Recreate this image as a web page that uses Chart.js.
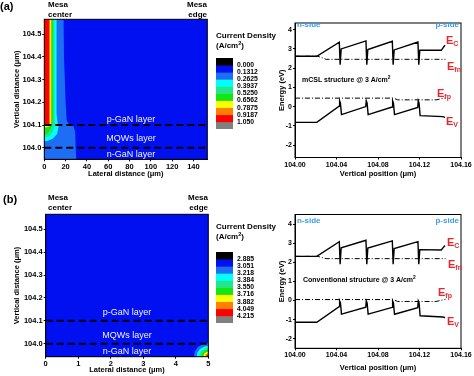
<!DOCTYPE html>
<html>
<head>
<meta charset="utf-8">
<script src="https://cdn.jsdelivr.net/npm/chart.js@4.4.1/dist/chart.umd.min.js"></script>
<style>
  body { margin: 0; background: #fff; }
  #wrap { position: relative; width: 474px; height: 376px; overflow: hidden; font-family: 'Liberation Sans', Arial, sans-serif; }
  canvas { position: absolute; }
  .t { position: absolute; white-space: nowrap; line-height: 1; font-weight: bold; color: #000; }
  .t sup { font-size: 70%; vertical-align: 3px; line-height: 0; }
  .lay { font-weight: normal; color: #f2f2ff; font-size: 9px; transform: translateX(-50%); }
  .side { color: #3d9be9; font-size: 8px; }
  .e { color: #e8262e; font-size: 11px; }
  .e sub { font-size: 7px; vertical-align: -2px; line-height: 0; }
</style>
</head>
<body>
<div id="wrap">
  <canvas id="contourA" width="215" height="185" style="left:0;top:0"></canvas>
  <canvas id="barA" width="51" height="87" style="left:216px;top:50px"></canvas>
  <canvas id="bandA" width="204" height="170" style="left:270px;top:15px"></canvas>
  <canvas id="contourB" width="215" height="181" style="left:0;top:195px"></canvas>
  <canvas id="barB" width="51" height="87" style="left:216px;top:244px"></canvas>
  <canvas id="bandB" width="204" height="169" style="left:270px;top:207px"></canvas>

  <!-- panel (a) labels -->
  <div class="t" style="left:0;top:1px;font-size:11px">(a)</div>
  <div class="t" style="left:48px;top:1px;font-size:8px">Mesa</div>
  <div class="t" style="left:48px;top:11px;font-size:8px">center</div>
  <div class="t" style="right:267px;top:1px;font-size:8px">Mesa</div>
  <div class="t" style="right:267px;top:11px;font-size:8px">edge</div>
  <div class="t" style="left:216px;top:32px;font-size:8px">Current Density</div>
  <div class="t" style="left:216px;top:42px;font-size:8px">(A/cm<sup>2</sup>)</div>
  <div class="t lay" style="left:131px;top:114.5px">p-GaN layer</div>
  <div class="t lay" style="left:131px;top:133.5px">MQWs layer</div>
  <div class="t lay" style="left:131px;top:150px">n-GaN layer</div>
  <div class="t side" style="left:297px;top:21px">n-side</div>
  <div class="t side" style="right:15px;top:21px">p-side</div>
  <div class="t" style="left:302px;top:75.5px;font-size:7px">mCSL structure @ 3 A/cm<sup>2</sup></div>
  <div class="t e" style="left:446px;top:35px">E<sub>C</sub></div>
  <div class="t e" style="left:447px;top:61px">E<sub>fn</sub></div>
  <div class="t e" style="left:437px;top:88px">E<sub>fp</sub></div>
  <div class="t e" style="left:446px;top:116px">E<sub>V</sub></div>

  <!-- panel (b) labels -->
  <div class="t" style="left:3px;top:194px;font-size:11px">(b)</div>
  <div class="t" style="left:48px;top:194px;font-size:8px">Mesa</div>
  <div class="t" style="left:48px;top:204px;font-size:8px">center</div>
  <div class="t" style="right:266px;top:194px;font-size:8px">Mesa</div>
  <div class="t" style="right:266px;top:204px;font-size:8px">edge</div>
  <div class="t" style="left:216px;top:223px;font-size:8px">Current Density</div>
  <div class="t" style="left:216px;top:233px;font-size:8px">(A/cm<sup>2</sup>)</div>
  <div class="t lay" style="left:127px;top:308px">p-GaN layer</div>
  <div class="t lay" style="left:127px;top:330.5px">MQWs layer</div>
  <div class="t lay" style="left:127px;top:347px">n-GaN layer</div>
  <div class="t side" style="left:297px;top:217px">n-side</div>
  <div class="t side" style="right:15px;top:217px">p-side</div>
  <div class="t" style="left:303px;top:275.5px;font-size:7px">Conventional structure @ 3 A/cm<sup>2</sup></div>
  <div class="t e" style="left:447px;top:237px">E<sub>C</sub></div>
  <div class="t e" style="left:448px;top:259px">E<sub>fn</sub></div>
  <div class="t e" style="left:438px;top:287px">E<sub>fp</sub></div>
  <div class="t e" style="left:447px;top:316px">E<sub>V</sub></div>
</div>

<script>
Chart.defaults.font.family = "'Liberation Sans', Arial, sans-serif";
Chart.defaults.color = '#000';

// colour levels of the contour maps (below first label ... above last label)
const levelColors = ['#000000', '#0010f0', '#1e6ef5', '#00ffff', '#22e68a', '#14e614', '#ffff00', '#ff8000', '#ff0000', '#808080'];
const levelLabelsA = ['0.000', '0.1312', '0.2625', '0.3937', '0.5250', '0.6562', '0.7875', '0.9187', '1.050'];
const levelLabelsB = ['2.885', '3.051', '3.218', '3.384', '3.550', '3.716', '3.882', '4.049', '4.215'];

// tick values
const contourYTicks = [104.0, 104.1, 104.2, 104.3, 104.4, 104.5];
const contourXTicksA = [0, 20, 40, 60, 80, 100, 120, 140];
const contourXTicksB = [0, 1, 2, 3, 4, 5];
const bandXTicks = [104.00, 104.04, 104.08, 104.12, 104.16];
const bandYTicks = [-2, -1, 0, 1, 2, 3, 4];
const layerBoundaries = [104.1, 104.0];

// (a) contour regions, [lateral µm, vertical µm], outer level first
const blueA = [[0, 103.9], [160, 103.9], [160, 104.6], [0, 104.6]];
const medBlueA = [[0, 104.6], [18, 104.6], [18.5, 104.4], [20, 104.2], [21, 104.12], [23, 104.105], [27, 104.1], [29, 104.07], [29.5, 104.0], [30.5, 103.9], [0, 103.9]];
const cyanA = [[0, 104.6], [11.5, 104.6], [11.5, 104.15], [12.5, 104.11], [13.5, 104.095], [12, 104.06], [8, 104.04], [3, 104.03], [0, 104.028]];
const seaGreenA = [[0, 104.6], [9.5, 104.6], [9.5, 104.12], [10, 104.1], [8, 104.07], [5, 104.052], [2, 104.046], [0, 104.044]];
const greenA = [[0, 104.6], [8, 104.6], [8, 104.11], [6.5, 104.09], [4.5, 104.07], [2, 104.06], [0, 104.058]];
const yellowA = [[0, 104.6], [6.5, 104.6], [6.5, 104.105], [5, 104.095], [2, 104.09], [0, 104.088]];
const orangeA = [[0, 104.6], [5.5, 104.6], [5.5, 104.1], [3, 104.098], [0, 104.097]];
const redA = [[0, 104.6], [4.5, 104.6], [4.5, 104.105], [0, 104.105]];

// (b) contour regions: hot spot in the bottom-right corner
const blueB = [[0, 103.9], [5.2, 103.9], [5.2, 104.6], [0, 104.6]];
const medBlueB = [[5, 103.94], [4.55, 103.94], [4.584, 103.966], [4.682, 103.985], [4.828, 103.998], [5, 104.003]];
const cyanB = [[5, 103.94], [4.64, 103.94], [4.667, 103.961], [4.745, 103.977], [4.862, 103.987], [5, 103.991]];
const seaGreenB = [[5, 103.94], [4.71, 103.94], [4.732, 103.958], [4.795, 103.970], [4.889, 103.978], [5, 103.981]];
const greenB = [[5, 103.94], [4.78, 103.94], [4.797, 103.954], [4.844, 103.964], [4.916, 103.971], [5, 103.973]];
const yellowB = [[5, 103.94], [4.85, 103.94], [4.861, 103.951], [4.894, 103.959], [4.943, 103.963], [5, 103.965]];
const orangeB = [[5, 103.94], [4.9, 103.94], [4.908, 103.949], [4.929, 103.954], [4.962, 103.957], [5, 103.958]];
const redB = [[5, 103.94], [4.94, 103.94], [4.945, 103.946], [4.958, 103.949], [4.977, 103.951], [5, 103.952]];

// band diagrams, [vertical position µm, energy eV]
const ecA = [[104.000, 2.62], [104.021, 2.62], [104.0427, 3.35], [104.0435, 2.18], [104.0445, 3.00], [104.0684, 3.42], [104.0692, 2.18], [104.0702, 2.97], [104.0938, 3.40], [104.0946, 2.18], [104.0956, 2.95], [104.1185, 3.36], [104.1193, 2.18], [104.1203, 2.93], [104.1410, 2.93], [104.1430, 3.08], [104.1446, 3.20]];
const efnA = [[104.000, 2.62], [104.022, 2.62], [104.030, 2.46], [104.145, 2.46]];
const efpA = [[104.000, 0.44], [104.095, 0.44], [104.099, 0.35], [104.136, 0.35], [104.145, 0.45]];
const evA = [[104.000, -0.82], [104.021, -0.82], [104.0425, 0.02], [104.0430, 0.30], [104.0438, 0.18], [104.0448, -0.42], [104.0682, 0.00], [104.0687, 0.30], [104.0695, 0.18], [104.0705, -0.42], [104.0936, -0.02], [104.0941, 0.30], [104.0949, 0.18], [104.0959, -0.42], [104.1183, -0.04], [104.1188, 0.30], [104.1196, 0.18], [104.1206, -0.47], [104.1425, -0.52], [104.1446, -0.56]];

const ecB = [[104.000, 2.31], [104.021, 2.31], [104.0427, 3.08], [104.0435, 1.90], [104.0445, 2.76], [104.0684, 3.15], [104.0692, 1.90], [104.0702, 2.74], [104.0938, 3.12], [104.0946, 1.90], [104.0956, 2.72], [104.1185, 3.08], [104.1193, 1.90], [104.1203, 2.66], [104.1410, 2.64], [104.1430, 2.78], [104.1446, 2.88]];
const efnB = [[104.000, 2.31], [104.022, 2.31], [104.030, 2.19], [104.145, 2.19]];
const efpB = [[104.000, 0.05], [104.095, 0.05], [104.099, -0.05], [104.136, -0.05], [104.145, 0.06]];
const evB = [[104.000, -1.14], [104.021, -1.14], [104.0425, -0.32], [104.0430, -0.02], [104.0438, -0.12], [104.0448, -0.71], [104.0682, -0.35], [104.0687, -0.02], [104.0695, -0.12], [104.0705, -0.71], [104.0936, -0.36], [104.0941, -0.02], [104.0949, -0.12], [104.0959, -0.72], [104.1183, -0.38], [104.1188, -0.02], [104.1196, -0.12], [104.1206, -0.80], [104.1425, -0.86], [104.1446, -0.90]];

// box round the plot area
const framePlugin = {
  id: 'frame',
  afterDraw(chart) {
    const { ctx, chartArea: a } = chart;
    ctx.save();
    ctx.strokeStyle = '#000';
    ctx.lineWidth = 1;
    ctx.strokeRect(a.left, a.top, a.right - a.left, a.bottom - a.top);
    ctx.restore();
  }
};

const bold = size => ({ size: size, weight: 'bold' });
const toXY = pts => pts.map(p => ({ x: p[0], y: p[1] }));

function makeContour(id, regions, xMax, xTicks, yMin, yMax, box) {
  const datasets = regions.map((pts, i) => ({
    data: toXY(pts),
    showLine: true,
    fill: 'shape',
    backgroundColor: levelColors[i + 1],
    borderColor: 'rgba(0,0,0,0)',
    borderWidth: 0,
    pointRadius: 0,
    order: 20 - i
  }));
  layerBoundaries.forEach(v => datasets.push({
    data: [{ x: 0, y: v }, { x: xMax, y: v }],
    showLine: true,
    borderColor: '#000',
    borderWidth: 2,
    borderDash: [7, 4],
    pointRadius: 0,
    order: 0
  }));

  new Chart(document.getElementById(id), {
    type: 'scatter',
    data: { datasets },
    options: {
      responsive: false, animation: false, events: [], devicePixelRatio: 1,
      layout: { padding: { top: box.top, right: box.right, left: 0, bottom: 0 } },
      plugins: { legend: { display: false }, tooltip: { enabled: false } },
      scales: {
        x: {
          type: 'linear', min: 0, max: xMax,
          afterBuildTicks: ax => { ax.ticks = xTicks.map(v => ({ value: v })); },
          afterFit: s => { s.height = box.xh; },
          ticks: { font: bold(7.5), padding: 1, maxRotation: 0, autoSkip: false, callback: v => String(v) },
          grid: { drawOnChartArea: false, tickLength: 2, color: '#000' },
          border: { color: '#000' },
          title: { display: true, text: 'Lateral distance (μm)', font: bold(7.5), padding: { top: 0, bottom: box.xtp } }
        },
        y: {
          type: 'linear', min: yMin, max: yMax,
          afterBuildTicks: ax => { ax.ticks = contourYTicks.map(v => ({ value: v })); },
          afterFit: s => { s.width = box.yw; },
          ticks: { font: bold(7.5), padding: 1, autoSkip: false, callback: v => v.toFixed(1) },
          grid: { drawOnChartArea: false, tickLength: 2, color: '#000' },
          border: { color: '#000' },
          title: { display: true, text: 'Vertical distance (μm)', font: bold(7.5), padding: { top: 12.2, bottom: 0 } }
        }
      }
    },
    plugins: [framePlugin]
  });
}

function makeColorBar(id, labels, padBottom) {
  new Chart(document.getElementById(id), {
    type: 'bar',
    data: {
      labels: [''],
      datasets: levelColors.map(c => ({
        data: [1], backgroundColor: c, borderWidth: 0, barPercentage: 1, categoryPercentage: 1
      }))
    },
    options: {
      responsive: false, animation: false, events: [], devicePixelRatio: 1,
      layout: { padding: { top: 3.3, bottom: padBottom, left: 0, right: 0 } },
      plugins: { legend: { display: false }, tooltip: { enabled: false } },
      scales: {
        x: { display: false, stacked: true },
        y: {
          stacked: true, min: 0, max: 10, reverse: true, position: 'right',
          afterBuildTicks: ax => { ax.ticks = labels.map((_, i) => ({ value: i + 1 })); },
          afterFit: s => { s.width = 34; },
          ticks: { font: bold(6.8), padding: 4, autoSkip: false, callback: (v, i) => labels[i] },
          grid: { display: false, drawTicks: false },
          border: { display: false }
        }
      }
    }
  });
}

function makeBand(id, ec, efn, efp, ev, yMin, yMax, box) {
  const curves = [ec, efn, efp, ev];
  const datasets = curves.map((pts, i) => ({
    data: toXY(pts),
    showLine: true,
    borderColor: '#000',
    borderWidth: i === 0 || i === 3 ? 1.4 : 1,
    borderDash: i === 0 || i === 3 ? [] : [5, 2, 1, 2],
    pointRadius: 0
  }));

  new Chart(document.getElementById(id), {
    type: 'scatter',
    data: { datasets },
    options: {
      responsive: false, animation: false, events: [], devicePixelRatio: 1,
      layout: { padding: { top: box.top, right: 13, left: 0, bottom: 0 } },
      plugins: { legend: { display: false }, tooltip: { enabled: false } },
      scales: {
        x: {
          type: 'linear', min: 104.0, max: 104.16,
          afterBuildTicks: ax => { ax.ticks = bandXTicks.map(v => ({ value: v })); },
          afterFit: s => { s.height = box.xh; },
          ticks: { font: bold(7), padding: 1, maxRotation: 0, autoSkip: false, callback: v => v.toFixed(2) },
          grid: { drawOnChartArea: false, tickLength: 2, color: '#000' },
          border: { color: '#000' },
          title: { display: true, text: 'Vertical position (μm)', font: bold(7.5), padding: { top: 0, bottom: box.xtp } }
        },
        y: {
          type: 'linear', min: yMin, max: yMax,
          afterBuildTicks: ax => { ax.ticks = bandYTicks.map(v => ({ value: v })); },
          afterFit: s => { s.width = 25; },
          ticks: { font: bold(7), padding: 1, autoSkip: false, callback: v => String(v) },
          grid: { drawOnChartArea: false, tickLength: 2, color: '#000' },
          border: { color: '#000' },
          title: { display: true, text: 'Energy (eV)', font: bold(7.5), padding: { top: 7.5, bottom: 0 } }
        }
      }
    },
    plugins: [framePlugin]
  });
}

makeContour('contourA', [blueA, medBlueA, cyanA, seaGreenA, greenA, yellowA, orangeA, redA], 153, contourXTicksA, 103.949, 104.566,
  { top: 19.3, right: 7.7, yw: 44.3, xh: 25.7, xtp: 6.5 });
makeContour('contourB', [blueB, medBlueB, cyanB, seaGreenB, greenB, yellowB, orangeB, redB], 5, contourXTicksB, 103.943, 104.566,
  { top: 19.3, right: 6.7, yw: 45.7, xh: 19.3, xtp: 1.5 });

makeColorBar('barA', levelLabelsA, 4.3);
makeColorBar('barB', levelLabelsB, 3.3);

makeBand('bandA', ecA, efnA, efpA, evA, -2.65, 4.35, { top: 8, xh: 27.5, xtp: 6.5 });
makeBand('bandB', ecB, efnB, efpB, evB, -2.5, 4.5, { top: 7.5, xh: 27.7, xtp: 3.2 });
</script>
</body>
</html>
